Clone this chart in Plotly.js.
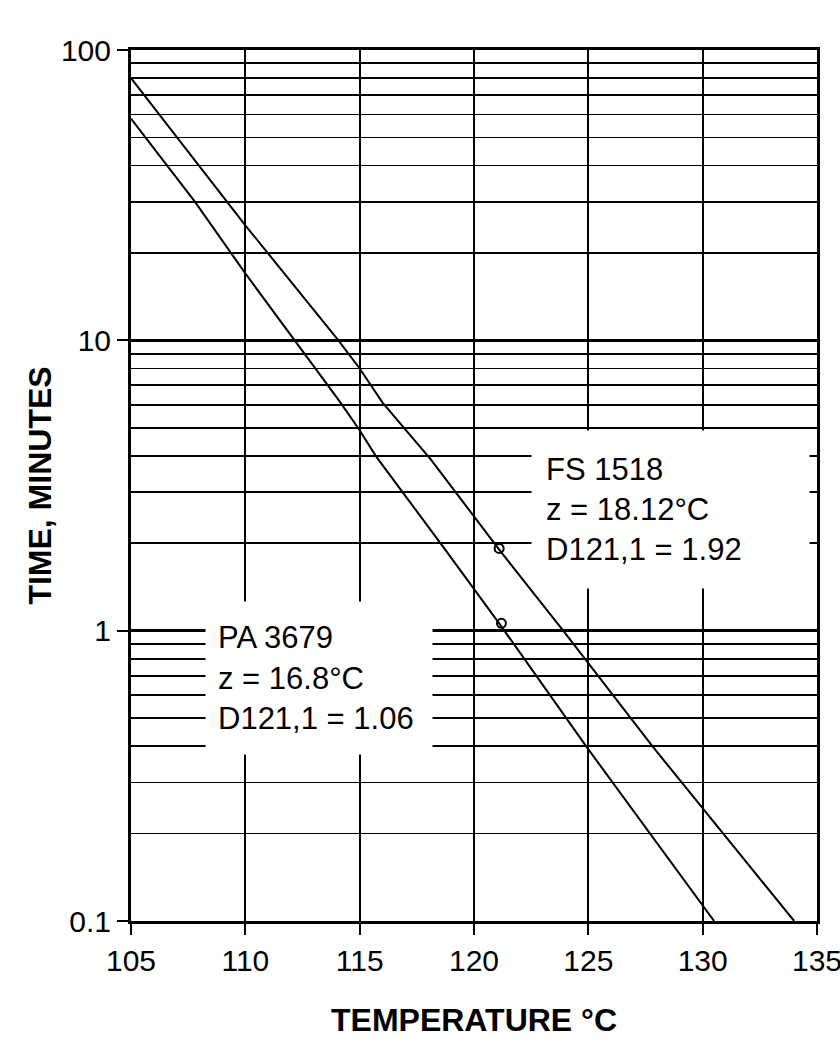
<!DOCTYPE html>
<html>
<head>
<meta charset="utf-8">
<script src="https://cdn.plot.ly/plotly-3.0.1.min.js"></script>
<style>html,body{margin:0;padding:0;background:#fff}#chart{width:840px;height:1048px}</style>
</head>
<body>
<div id="chart"></div>
<script>
// FS 1518 curve (temperature °C, time minutes)
const fsTemp = [105, 110, 114.07, 115, 116.0, 118.1, 121.06, 123.9, 127.8, 130.9, 134.0];
const fsTime = [80, 24.9, 10, 8.0, 6.1, 3.9, 1.92, 1.0, 0.4, 0.2, 0.1];
// PA 3679 curve
const paTemp = [105, 107.8, 110, 112.4, 114.1, 115.0, 115.7, 118.7, 121.1, 124.9, 127.7, 130.5];
const paTime = [58, 30, 17.0, 9.4, 6.2, 4.9, 4.0, 1.92, 1.06, 0.4, 0.2, 0.1];
// D121 reference points
const refTemp = [121.1, 121.2];
const refTime = [1.92, 1.06];
// labels
const fsLabel = ['FS 1518', 'z = 18.12°C', 'D121,1 = 1.92'];
const paLabel = ['PA 3679', 'z = 16.8°C', 'D121,1 = 1.06'];
// axis ticks
const xTicks = [105, 110, 115, 120, 125, 130, 135];
const yTicks = [0.1, 1, 10, 100];
const yTickText = ['0.1', '1', '10', '100'];
const yMinor = [0.2,0.3,0.4,0.5,0.6,0.7,0.8,0.9,2,3,4,5,6,7,8,9,20,30,40,50,60,70,80,90];

const FONT = '"Liberation Sans", Arial, Helvetica, sans-serif';

const traces = [
  {x: fsTemp, y: fsTime, mode: 'lines', line: {color: '#000', width: 2}, hoverinfo: 'skip'},
  {x: paTemp, y: paTime, mode: 'lines', line: {color: '#000', width: 2}, hoverinfo: 'skip'},
  {x: refTemp, y: refTime, mode: 'markers', marker: {symbol: 'circle-open', size: 9, color: '#000', line: {width: 2, color: '#000'}}, hoverinfo: 'skip'}
];

const layout = {
  width: 840, height: 1048,
  margin: {l: 131, r: 23, t: 50, b: 127},
  paper_bgcolor: '#fff', plot_bgcolor: '#fff',
  showlegend: false,
  font: {family: FONT, color: '#000', size: 30},
  xaxis: {
    range: [105, 135],
    tickmode: 'array', tickvals: xTicks, ticktext: xTicks.map(String),
    ticks: 'outside', ticklen: 11, tickwidth: 2, tickcolor: '#000',
    ticklabeloverflow: 'allow',
    showline: true, linewidth: 3, linecolor: '#000', mirror: true,
    showgrid: true, gridcolor: '#000', gridwidth: 1.8,
    zeroline: false,
    tickfont: {size: 30, family: FONT, color: '#000'},
    title: {text: 'TEMPERATURE °C', font: {size: 32, family: FONT, color: '#000', weight: 'bold'}, standoff: 33}
  },
  yaxis: {
    type: 'log', range: [-1, 2],
    tickmode: 'array', tickvals: yTicks, ticktext: yTickText,
    ticks: 'outside', ticklen: 11, tickwidth: 2, tickcolor: '#000',
    showline: true, linewidth: 3, linecolor: '#000', mirror: true,
    showgrid: true, gridcolor: '#000', gridwidth: 3,
    zeroline: false,
    tickfont: {size: 30, family: FONT, color: '#000'},
    minor: {tickmode: 'array', tickvals: yMinor, showgrid: true, gridcolor: '#000', gridwidth: 1.8, ticks: ''},
    title: {text: 'TIME, MINUTES', font: {size: 32, family: FONT, color: '#000', weight: 'bold'}, standoff: 0}
  },
  annotations: [
    {xref: 'x', yref: 'y', x: 122.49, y: Math.log10(4.91), xanchor: 'left', yanchor: 'top',
     text: fsLabel.join('<br>'), align: 'left', valign: 'middle', showarrow: false,
     bgcolor: '#fff', borderpad: 14, width: 249, height: 129,
     font: {size: 31, family: FONT, color: '#000'}},
    {xref: 'x', yref: 'y', x: 108.24, y: Math.log10(1.265), xanchor: 'left', yanchor: 'top',
     text: paLabel.join('<br>'), align: 'left', valign: 'middle', showarrow: false,
     bgcolor: '#fff', borderpad: 12, width: 202, height: 128,
     font: {size: 31, family: FONT, color: '#000'}}
  ]
};

Plotly.newPlot('chart', traces, layout, {staticPlot: true, displayModeBar: false});
</script>
</body>
</html>
